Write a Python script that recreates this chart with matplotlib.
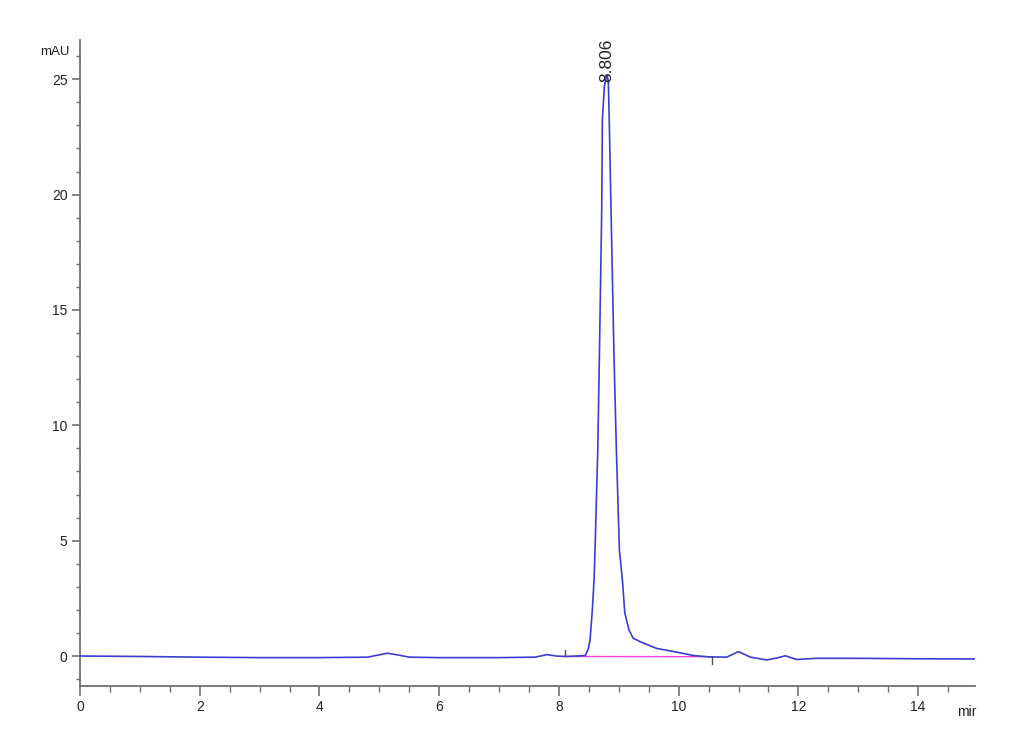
import matplotlib
matplotlib.use("Agg")
import matplotlib.pyplot as plt
from matplotlib.ticker import MultipleLocator

plt.rcParams['font.family'] = ['Liberation Sans', 'DejaVu Sans']

# Chromatogram trace (time in min, signal in mAU)
time_min = [0.0, 1.0, 2.0, 3.0, 4.0, 4.8, 5.0, 5.13, 5.3, 5.5, 6.0, 7.0, 7.6, 7.8,
            7.95, 8.1, 8.3, 8.44, 8.49, 8.52, 8.558, 8.587, 8.603, 8.649, 8.675,
            8.715, 8.726, 8.76, 8.785, 8.806, 8.825, 8.84, 8.87, 8.92, 8.96, 9.01,
            9.06, 9.10, 9.17, 9.24, 9.36, 9.47, 9.63, 9.86, 10.02, 10.25, 10.52,
            10.8, 11.0, 11.2, 11.47, 11.65, 11.78, 11.97, 12.3, 13.0, 14.0, 14.95]
signal_mau = [0.0, -0.02, -0.05, -0.07, -0.07, -0.05, 0.05, 0.12, 0.05, -0.05, -0.07,
              -0.07, -0.05, 0.06, 0.0, -0.02, 0.0, 0.02, 0.3, 0.69, 2.0, 3.3, 4.6,
              8.94, 12.85, 19.4, 23.3, 24.7, 25.05, 25.15, 24.9, 23.3, 19.4, 13.0,
              8.9, 4.6, 3.3, 1.87, 1.13, 0.77, 0.62, 0.5, 0.33, 0.22, 0.14, 0.02,
              -0.04, -0.05, 0.19, -0.05, -0.17, -0.08, 0.01, -0.15, -0.1, -0.1,
              -0.12, -0.13]

# Integration baseline of the main peak
baseline_t = [8.10, 10.56]
baseline_y = [-0.02, -0.03]

peak_rt = 8.806
peak_height = 25.15
peak_label = "8.806"

x_ticks = [0, 2, 4, 6, 8, 10, 12, 14]
y_ticks = [0, 5, 10, 15, 20, 25]

fig = plt.figure(figsize=(10.24, 7.51), dpi=100)
ax = fig.add_axes([80/1024, 1 - 686/751, 895/1024, 646/751])

ax.plot(time_min, signal_mau, color='#3c3cd2', lw=1.2, zorder=3)
ax.plot(baseline_t, baseline_y, color='#ee44dd', lw=1.0, zorder=2)
# start / end ticks of integration
ax.plot([baseline_t[0], baseline_t[0]], [baseline_y[0], baseline_y[0] + 0.3],
        color='#555555', lw=1.0, zorder=4)
ax.plot([baseline_t[1], baseline_t[1]], [baseline_y[1], baseline_y[1] - 0.3],
        color='#555555', lw=1.0, zorder=4)

ax.text(peak_rt, peak_height - 0.25, peak_label, rotation=90, ha='center', va='bottom',
        fontsize=12.5, color='#222222')

ax.set_xlim(0, 14.95)
ax.set_ylim(-1.3, 26.7)
ax.set_xticks(x_ticks)
ax.set_yticks(y_ticks)
ax.xaxis.set_minor_locator(MultipleLocator(0.5))
ax.yaxis.set_minor_locator(MultipleLocator(1))

for s in ['top', 'right']:
    ax.spines[s].set_visible(False)
for s in ['left', 'bottom']:
    ax.spines[s].set_color('#707070')
    ax.spines[s].set_linewidth(1.3)

ax.tick_params(axis='x', which='major', length=7, width=1.2, color='#707070',
               labelsize=10, pad=3, labelcolor='#222222')
ax.tick_params(axis='x', which='minor', length=4, width=1.0, color='#707070')
ax.tick_params(axis='y', which='major', length=6, width=1.2, color='#707070',
               labelsize=10, pad=3, labelcolor='#222222')
ax.tick_params(axis='y', which='minor', length=3, width=1.0, color='#707070')

fig.text(40/1024, 1 - 52/751, "mAU", fontsize=9.5, ha='left', va='center', color='#222222')
fig.text(957/1024, 1 - 712/751, "mir", fontsize=10, ha='left', va='center', color='#222222')

fig.savefig("out.png", dpi=100)
